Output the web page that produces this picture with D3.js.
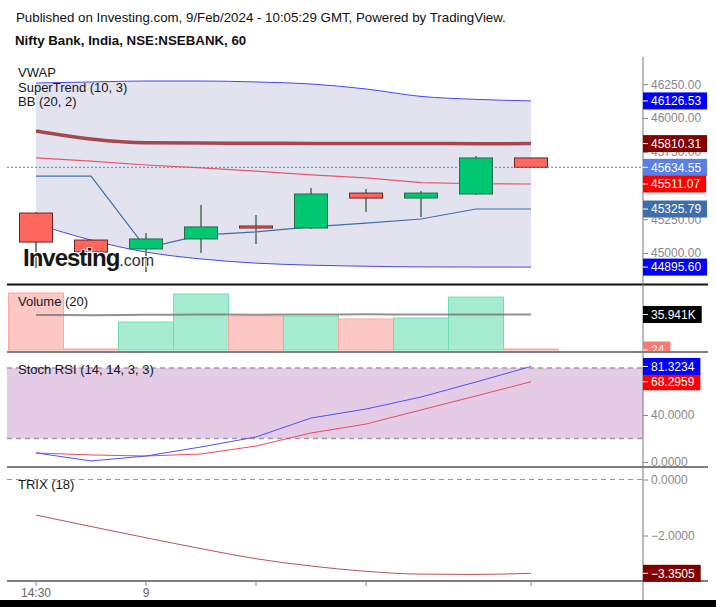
<!DOCTYPE html>
<html>
<head>
<meta charset="utf-8">
<script src="https://cdn.jsdelivr.net/npm/d3@7"></script>
<style>
  body { margin: 0; background: #fff; }
  svg { font-family: "Liberation Sans", Arial, sans-serif; display: block; }
</style>
</head>
<body>
<div id="chart"></div>
<script>
// hourly bars, NSE:NSEBANK
const times = ['14:30', '15:30', '9', '10:30', '11:30', '12:30', '13:30', '14:30', '15:30', '16:30'];
const open  = [45296, 45096, 45030, 45104, 45200, 45185, 45444, 45407, 45437, 45704];
const high  = [45304, 45104, 45148, 45356, 45281, 45481, 45474, 45459, 45719, 45704];
const low   = [44889, 44985, 44859, 45000, 45067, 45178, 45304, 45267, 45430, 45634];
const close = [45081, 45007, 45104, 45193, 45185, 45437, 45407, 45444, 45704, 45634.55];

const vwap       = [45904, 45845, 45816, 45814, 45813, 45812, 45811, 45811, 45810, 45810.31];
const superTrend = [45570, 45570, 45037, 45133, 45156, 45193, 45222, 45252, 45326, 45325.79];
const bbUpper    = [46259, 46267, 46274, 46274, 46267, 46252, 46215, 46160, 46138, 46126.53];
const bbBasis    = [45704, 45681, 45652, 45630, 45607, 45578, 45556, 45522, 45513, 45511.07];
const bbLower    = [45215, 45096, 45007, 44956, 44925, 44910, 44902, 44897, 44896, 44895.60];

const volume   = [57700, 300, 28300, 56700, 34400, 34400, 31400, 32400, 53600, 24];
const volumeMA = [35400, 35300, 35700, 35900, 35800, 35900, 36100, 35950, 36050, 35941];

const stochK = [7.7, 0.9, 5.1, 12.8, 21.3, 37.4, 45.1, 55.3, 68.1, 81.3234];
const stochD = [7.7, 6.0, 5.1, 6.8, 13.6, 24.7, 32.3, 44.3, 56.2, 68.2959];

const trix = [-1.27, -1.68, -2.08, -2.47, -2.83, -3.09, -3.28, -3.38, -3.39, -3.3505];

const priceTicks = [45000, 45250, 45750, 46000, 46250];
const stochTicks = [0, 40];
const trixTicks = [-2, 0];
const xTickIdx = [0, 2, 4, 6, 9];
const xTickText = ['14:30', '9', '', '', ''];

const W = 716, H = 607, L = 7, AX = 643;
const svg = d3.select('#chart').append('svg').attr('width', W).attr('height', H);

const x = d3.scaleLinear().domain([0, 9]).range([36, 531]);
const yP = d3.scaleLinear().domain([45000, 46000]).range([253, 118]);
const yV = d3.scaleLinear().domain([0, 64800]).range([350, 286]);
const yS = d3.scaleLinear().domain([0, 100]).range([462, 344.5]);
const yT = d3.scaleLinear().domain([-2, 0]).range([535.5, 479.5]);

const idx = d3.range(times.length);
const line = (arr, ys) => d3.line().x(i => x(i)).y(i => ys(arr[i]))(idx);
const curve = (arr, ys) => d3.line().curve(d3.curveMonotoneX).x(i => x(i)).y(i => ys(arr[i]))(idx);

// header
svg.append('text').attr('x', 16).attr('y', 22).attr('font-size', 13.3).attr('fill', '#111')
  .text('Published on Investing.com, 9/Feb/2024 - 10:05:29 GMT, Powered by TradingView.');
svg.append('text').attr('x', 15).attr('y', 45).attr('font-size', 13.3).attr('font-weight', 'bold').attr('fill', '#111')
  .text('Nifty Bank, India, NSE:NSEBANK, 60');

// ---- price panel ----
const main = svg.append('g');
main.append('path')
  .attr('d', d3.area().curve(d3.curveMonotoneX).x(i => x(i)).y0(i => yP(bbLower[i])).y1(i => yP(bbUpper[i]))(idx))
  .attr('fill', '#e3e3f0');
main.append('path').attr('d', curve(bbUpper, yP)).attr('fill', 'none').attr('stroke', '#4747f2').attr('stroke-width', 1);
main.append('path').attr('d', curve(bbLower, yP)).attr('fill', 'none').attr('stroke', '#4747f2').attr('stroke-width', 1);
main.append('path').attr('d', line(bbBasis, yP)).attr('fill', 'none').attr('stroke', '#e6566a').attr('stroke-width', 1.2);
main.append('path').attr('d', curve(vwap, yP)).attr('fill', 'none').attr('stroke', '#a3484e').attr('stroke-width', 3.5);
main.append('path').attr('d', line(superTrend, yP)).attr('fill', 'none').attr('stroke', '#3d6eab').attr('stroke-width', 1.2);

const candle = main.selectAll('g.c').data(idx).enter().append('g').attr('class', 'c');
candle.append('line')
  .attr('x1', i => x(i)).attr('x2', i => x(i))
  .attr('y1', i => yP(high[i])).attr('y2', i => yP(low[i]))
  .attr('stroke', '#6f8d7f').attr('stroke-width', 2);
candle.append('rect')
  .attr('x', i => x(i) - 16.5).attr('width', 33)
  .attr('y', i => yP(Math.max(open[i], close[i])))
  .attr('height', i => Math.max(1.5, Math.abs(yP(open[i]) - yP(close[i]))))
  .attr('fill', i => close[i] >= open[i] ? '#00c872' : '#ff665e')
  .attr('stroke', i => close[i] >= open[i] ? '#2f6650' : '#6e2222')
  .attr('stroke-width', 1);

// last price dotted line
main.append('line').attr('x1', L).attr('x2', AX)
  .attr('y1', yP(close[9])).attr('y2', yP(close[9]))
  .attr('stroke', '#5b7fe5').attr('stroke-dasharray', '2,2');

// logo
const logo = svg.append('text').attr('x', 23).attr('y', 266)
  .attr('stroke', '#fff').attr('stroke-width', 2).attr('paint-order', 'stroke');
logo.append('tspan').attr('font-size', 24).attr('font-weight', 'bold').attr('letter-spacing', -1).attr('fill', '#161616').text('Investing');
logo.append('tspan').attr('font-size', 16).attr('fill', '#333').text('.com');

// legend
['VWAP', 'SuperTrend (10, 3)', 'BB (20, 2)'].forEach((t, k) => {
  svg.append('text').attr('x', 18).attr('y', 77 + k * 14.5).attr('font-size', 13).attr('fill', '#131722').text(t);
});

// ---- volume panel ----
svg.selectAll('rect.v').data(idx).enter().append('rect').attr('class', 'v')
  .attr('x', i => x(i) - 27.5).attr('width', 55)
  .attr('y', i => Math.min(yV(volume[i]), yV(0) - 1))
  .attr('height', i => Math.max(1, yV(0) - yV(volume[i])))
  .attr('fill', i => close[i] >= open[i] ? '#a6ecd0' : '#fdc8c4')
  .attr('stroke', i => close[i] >= open[i] ? '#6ee0b0' : '#f9a8a2')
  .attr('stroke-width', 1);
svg.append('path').attr('d', curve(volumeMA, yV)).attr('fill', 'none')
  .attr('stroke', '#777').attr('stroke-opacity', 0.8).attr('stroke-width', 2);
svg.append('text').attr('x', 18).attr('y', 306).attr('font-size', 13).attr('fill', '#131722').text('Volume (20)');

// ---- stoch rsi panel ----
svg.append('rect').attr('x', L).attr('width', AX - L)
  .attr('y', yS(80)).attr('height', yS(20) - yS(80)).attr('fill', '#e4cbe6');
[80, 20].forEach(v => svg.append('line').attr('x1', L).attr('x2', AX).attr('y1', yS(v)).attr('y2', yS(v))
  .attr('stroke', '#a09aa2').attr('stroke-width', 1.5).attr('stroke-dasharray', '5,4'));
svg.append('path').attr('d', line(stochD, yS)).attr('fill', 'none').attr('stroke', '#ec4a62').attr('stroke-width', 1);
svg.append('path').attr('d', line(stochK, yS)).attr('fill', 'none').attr('stroke', '#5252f0').attr('stroke-width', 1);
svg.append('text').attr('x', 18).attr('y', 374).attr('font-size', 13).attr('fill', '#131722').text('Stoch RSI (14, 14, 3, 3)');

// ---- trix panel ----
svg.append('line').attr('x1', L).attr('x2', AX).attr('y1', yT(0)).attr('y2', yT(0))
  .attr('stroke', '#999').attr('stroke-width', 1.2).attr('stroke-dasharray', '5,4');
svg.append('path').attr('d', curve(trix, yT)).attr('fill', 'none').attr('stroke', '#b5545a').attr('stroke-width', 1);
svg.append('text').attr('x', 18).attr('y', 489).attr('font-size', 13).attr('fill', '#131722').text('TRIX (18)');

// panel separators
svg.append('line').attr('x1', L).attr('x2', 708).attr('y1', 284.5).attr('y2', 284.5).attr('stroke', '#111').attr('stroke-width', 2);
[352, 467, 581].forEach(y => svg.append('line').attr('x1', L).attr('x2', 708).attr('y1', y).attr('y2', y)
  .attr('stroke', '#555').attr('stroke-width', 1.5));

// right axis
svg.append('line').attr('x1', AX).attr('x2', AX).attr('y1', 57).attr('y2', 600).attr('stroke', '#777');

function axisR(scale, vals, fmt) {
  const g = svg.append('g').attr('transform', `translate(${AX},0)`)
    .call(d3.axisRight(scale).tickValues(vals).tickFormat(fmt).tickSize(5).tickPadding(3));
  g.select('.domain').remove();
  g.selectAll('line').attr('stroke', '#888');
  g.selectAll('text').attr('fill', '#888').attr('font-size', 12).attr('font-family', '"Liberation Sans", Arial, sans-serif');
}
axisR(yP, priceTicks, d3.format('.2f'));
axisR(yS, stochTicks, d3.format('.4f'));
axisR(yT, trixTicks, d3.format('.4f'));

function tag(parent, y, txt, bg) {
  const g = parent.append('g').attr('transform', `translate(${AX},${y})`);
  const rect = g.append('rect').attr('y', -8.5).attr('height', 17).attr('fill', bg);
  g.append('line').attr('x1', 0).attr('x2', 5).attr('stroke', '#fff');
  const t = g.append('text').attr('x', 8).attr('dy', '0.35em').attr('font-size', 12).attr('fill', '#fff').text(txt);
  rect.attr('width', t.node().getComputedTextLength() + 14);
}
const fmt2 = d3.format('.2f'), fmt4 = d3.format('.4f');
tag(svg, yP(bbUpper[9]), fmt2(bbUpper[9]), '#0000ff');
tag(svg, yP(vwap[9]), fmt2(vwap[9]), '#800000');
tag(svg, yP(close[9]), fmt2(close[9]), '#5a7fe6');
tag(svg, yP(bbBasis[9]), fmt2(bbBasis[9]), '#ff0000');
tag(svg, yP(superTrend[9]), fmt2(superTrend[9]), '#3d6eab');
tag(svg, yP(bbLower[9]), fmt2(bbLower[9]), '#0000ff');

svg.append('clipPath').attr('id', 'volclip').append('rect').attr('x', AX).attr('y', 286).attr('width', 80).attr('height', 65);
const volTags = svg.append('g').attr('clip-path', 'url(#volclip)');
tag(volTags, yV(volume[9]), String(volume[9]), '#fa7a72');
tag(volTags, yV(volumeMA[9]), (volumeMA[9] / 1000).toFixed(3) + 'K', '#000');

tag(svg, yS(stochD[9]), fmt4(stochD[9]), '#ff0000');
tag(svg, yS(stochK[9]), fmt4(stochK[9]), '#0000ff');
tag(svg, yT(trix[9]), fmt4(trix[9]), '#800000');

// time axis
const xt = svg.append('g');
xTickIdx.forEach((i, k) => {
  xt.append('line').attr('x1', x(i)).attr('x2', x(i)).attr('y1', 581).attr('y2', 586).attr('stroke', '#888');
  xt.append('text').attr('x', x(i)).attr('y', 597).attr('text-anchor', 'middle')
    .attr('font-size', 12).attr('fill', '#666').text(xTickText[k]);
});

// bottom bar
svg.append('rect').attr('x', 0).attr('y', 600).attr('width', W).attr('height', 7).attr('fill', '#000');
</script>
</body>
</html>
